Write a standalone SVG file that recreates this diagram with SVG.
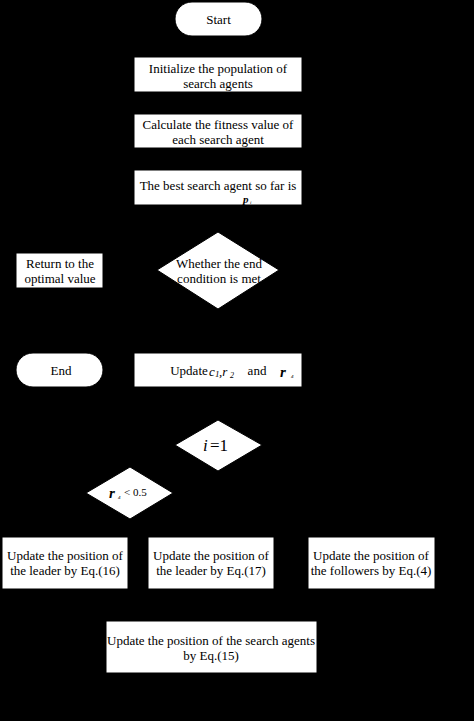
<svg xmlns="http://www.w3.org/2000/svg" width="474" height="721" viewBox="0 0 474 721">
<defs>
<marker id="arr" viewBox="0 0 10 10" refX="10" refY="5" markerWidth="6" markerHeight="6" orient="auto"><path d="M0,0 L10,5 L0,10 z" fill="#000"/></marker>
<style>
.n{fill:#fff;stroke:#000;stroke-width:1}
.t{font-family:"Liberation Serif","Times New Roman",serif;font-size:13px;fill:#000;text-anchor:middle}
.m{font-family:"Liberation Serif","Times New Roman",serif;font-style:italic;fill:#000}
.c{fill:none;stroke:#000;stroke-width:1;marker-end:url(#arr)}
</style>
</defs>
<rect x="0" y="0" width="474" height="721" fill="#000"/>
<g id="connectors">
<path class="c" d="M218,36 V57"/>
<path class="c" d="M218,92 V114"/>
<path class="c" d="M218,148 V170"/>
<path class="c" d="M218,205 V232"/>
<path class="c" d="M157,270 H103"/>
<path class="c" d="M60,288 V353"/>
<path class="c" d="M218,309 V353"/>
<path class="c" d="M218,387 V420"/>
<path class="c" d="M175,445 H130 V467"/>
<path class="c" d="M262,445 H371 V537"/>
<path class="c" d="M86,493 H65 V537"/>
<path class="c" d="M173,493 H211 V537"/>
<path class="c" d="M65,589 V605 H211 V621"/>
<path class="c" d="M211,589 V621"/>
<path class="c" d="M371,589 V605 H211"/>
<path class="c" d="M317,647 H450 V131 H302"/>
</g>
<g id="start"><rect class="n" x="175" y="2" width="87" height="34" rx="17"/><text class="t" x="218.5" y="24">Start</text></g>
<g id="init"><rect class="n" x="134" y="57" width="168" height="35"/><text class="t" x="218" y="73">Initialize the  population of</text><text class="t" x="218" y="88">search agents</text></g>
<g id="calc"><rect class="n" x="134" y="114" width="168" height="34"/><text class="t" x="218" y="129">Calculate the fitness value of</text><text class="t" x="218" y="144">each search agent</text></g>
<g id="best"><rect class="n" x="134" y="170" width="168" height="35"/><text class="t" x="218" y="190">The best search agent so far is</text><text class="m" x="243" y="203" font-size="11" font-weight="bold">p</text><text class="m" x="250" y="204" font-size="5">i</text></g>
<g id="cond"><polygon class="n" points="218,232 279,270 218,309 157,270"/><text class="t" x="219" y="268">Whether the end</text><text class="t" x="219" y="283">condition is met</text></g>
<g id="ret"><rect class="n" x="16" y="253" width="87" height="35"/><text class="t" x="60" y="268">Return to the</text><text class="t" x="60" y="283">optimal value</text></g>
<g id="end"><rect class="n" x="16" y="353" width="87" height="34" rx="17"/><text class="t" x="61" y="375">End</text></g>
<g id="update"><rect class="n" x="134" y="353" width="168" height="34"/><text class="t" x="189" y="375">Update</text><text class="m" x="209" y="376" font-size="13">c</text><text class="m" x="215" y="377" font-size="9">1</text><text class="m" x="219" y="376" font-size="13">,r</text><text class="m" x="230" y="378" font-size="8">2</text><text class="t" x="257" y="375">and</text><text class="m" x="280" y="377" font-size="15" font-weight="bold">r</text><text class="m" x="291" y="378" font-size="5">4</text></g>
<g id="i1"><polygon class="n" points="218,420 262,445 218,471 175,445"/><text class="m" x="203" y="451" font-size="17">i</text><text font-family="Liberation Serif,serif" font-size="17" x="210" y="451" fill="#000">=1</text></g>
<g id="r4"><polygon class="n" points="130,467 173,493 130,519 86,493"/><text class="m" x="109" y="498" font-size="15" font-weight="bold">r</text><text class="m" x="118" y="499" font-size="5">4</text><text font-family="Liberation Serif,serif" font-size="11" x="124" y="496" fill="#000">&lt; 0.5</text></g>
<g id="eq16"><rect class="n" x="2" y="537" width="126" height="52"/><text class="t" x="65" y="560">Update the position of</text><text class="t" x="65" y="575">the leader by Eq.(16)</text></g>
<g id="eq17"><rect class="n" x="148" y="537" width="126" height="52"/><text class="t" x="211" y="560">Update the position of</text><text class="t" x="211" y="575">the leader by Eq.(17)</text></g>
<g id="eq4"><rect class="n" x="308" y="537" width="127" height="52"/><text class="t" x="371" y="560">Update the position of</text><text class="t" x="371" y="575">the followers by Eq.(4)</text></g>
<g id="eq15"><rect class="n" x="106" y="621" width="211" height="52"/><text class="t" x="211" y="645">Update the position of the search agents</text><text class="t" x="211" y="660">by Eq.(15)</text></g>
</svg>
